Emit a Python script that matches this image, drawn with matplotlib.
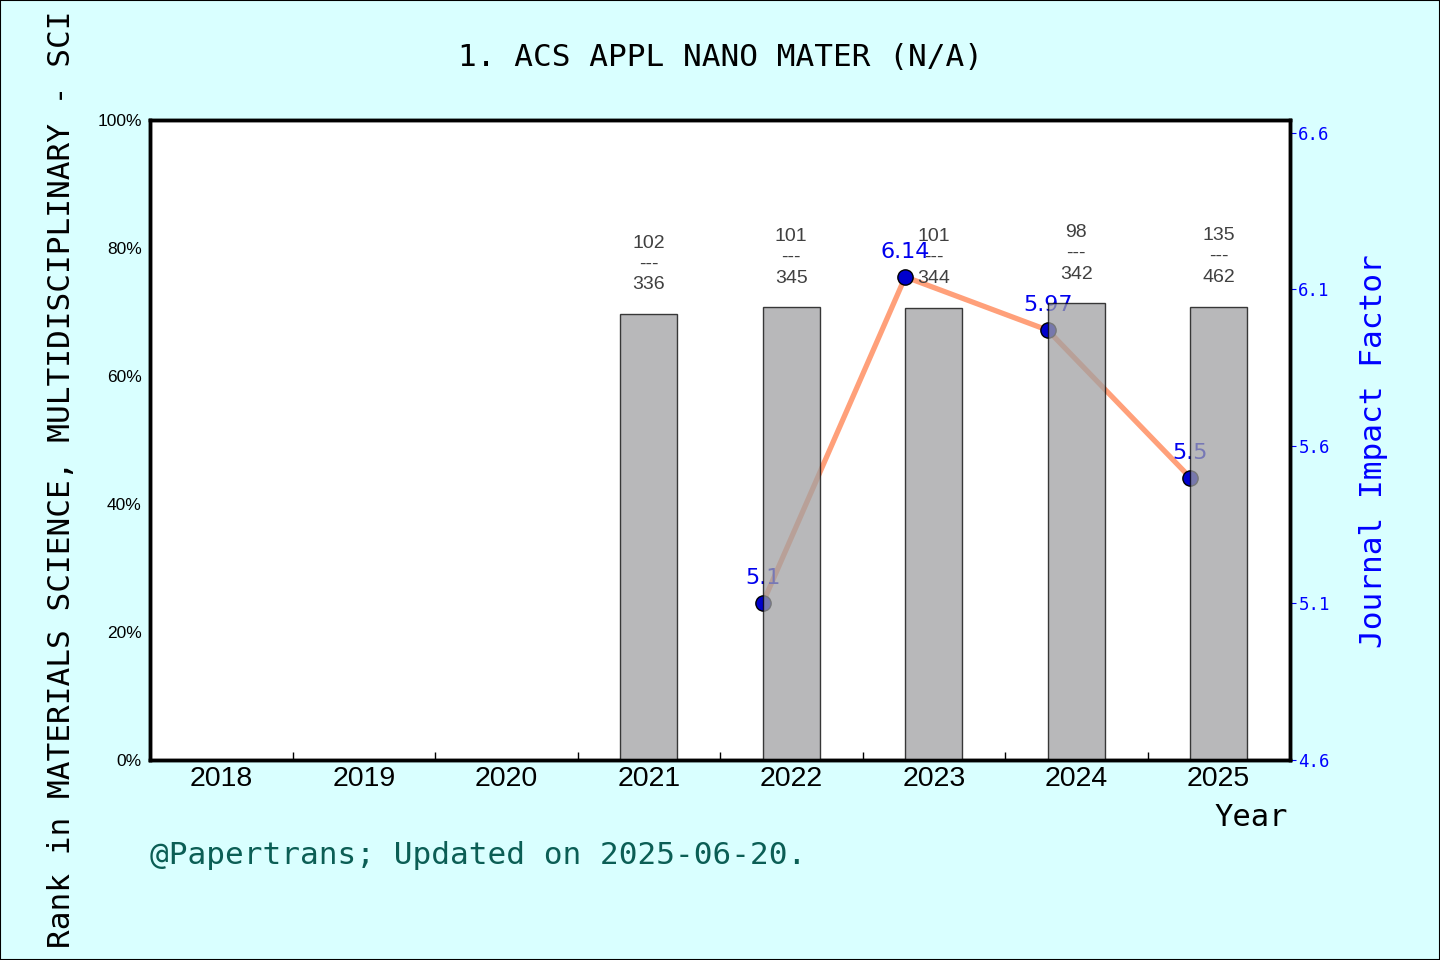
import matplotlib
matplotlib.use("Agg")
import matplotlib.pyplot as plt
import numpy as np
from matplotlib.ticker import FuncFormatter, FixedLocator
from matplotlib.patches import Rectangle

# ---- data ----
years = [2018, 2019, 2020, 2021, 2022, 2023, 2024, 2025]
bar_years = [2021, 2022, 2023, 2024, 2025]
ranks = [102, 101, 101, 98, 135]
totals = [336, 345, 344, 342, 462]
if_years = [2022, 2023, 2024, 2025]
if_values = [5.1, 6.14, 5.97, 5.5]
if_ticks = [4.6, 5.1, 5.6, 6.1, 6.6]
pct_ticks = [0, 0.2, 0.4, 0.6, 0.8, 1.0]
title = "1. ACS APPL NANO MATER (N/A)"
left_label = "Rank in MATERIALS SCIENCE, MULTIDISCIPLINARY - SCI"
right_label = "Journal Impact Factor"
footnote = "@Papertrans; Updated on 2025-06-20."

MONO = "DejaVu Sans Mono"
SANS = "Liberation Sans"

fig = plt.figure(figsize=(14.4, 9.6), dpi=100)
fig.patch.set_facecolor("#d9ffff")
fig.patches.append(Rectangle((0, 0), 1, 1, transform=fig.transFigure, fill=False,
                             edgecolor="black", linewidth=1.5, zorder=100))

rect = [150 / 1440, 200 / 960, 1140 / 1440, 640 / 960]
ax_if = fig.add_axes(rect)
ax_bar = ax_if.twinx()

ax_if.set_facecolor("white")
ax_bar.patch.set_visible(False)

# ---- IF line (drawn below bars) ----
x_if = np.array(if_years) - 0.2
ax_if.plot(x_if, if_values, color="#ffa07a", linewidth=3.8, zorder=2)
ax_if.plot(x_if, if_values, linestyle="none", marker="o", markersize=11,
           markerfacecolor="#0000cd", markeredgecolor="black", markeredgewidth=1, zorder=3)
for x, v in zip(x_if, if_values):
    ax_if.annotate(f"{v:g}", (x, v), xytext=(0, 18), textcoords="offset points",
                   ha="center", va="center", color="#0000ee", fontsize=16,
                   family="DejaVu Sans", zorder=4)

ax_if.set_ylim(4.6, 6.64)
ax_if.yaxis.set_label_position("right")
ax_if.yaxis.tick_right()
ax_if.set_yticks(if_ticks)
ax_if.set_yticklabels([f"{t:.1f}" for t in if_ticks], family=MONO, fontsize=12.5, color="#0000ff")
ax_if.tick_params(axis="y", direction="out", length=4, color="#0000ff", pad=2)

# ---- bars (on top, semi-transparent) ----
heights = [1 - r / t for r, t in zip(ranks, totals)]
ax_bar.bar(bar_years, heights, width=0.4, color="#a0a1a3", alpha=0.75,
           edgecolor="black", linewidth=1, zorder=2)
for x, h, r, t in zip(bar_years, heights, ranks, totals):
    ax_bar.annotate(f"{r}\n---\n{t}", (x, h), xytext=(0, 15), textcoords="offset points",
                    ha="center", va="bottom", fontsize=14, color="#404040",
                    family=SANS, linespacing=1.3)

ax_bar.set_ylim(0, 1)
ax_bar.yaxis.set_label_position("left")
ax_bar.yaxis.tick_left()
ax_bar.set_yticks(pct_ticks)
ax_bar.yaxis.set_major_formatter(FuncFormatter(lambda v, p: f"{v*100:.0f}%"))
for lab in ax_bar.get_yticklabels():
    lab.set_family(SANS)
    lab.set_fontsize(12.5)
ax_bar.tick_params(axis="y", length=0, pad=6)

# ---- x axis ----
ax_if.set_xlim(2017.5, 2025.5)
ax_if.set_xticks(years)
ax_if.set_xticklabels([str(y) for y in years], family=SANS, fontsize=20.5)
ax_if.tick_params(axis="x", which="major", length=0, pad=4)
ax_if.xaxis.set_minor_locator(FixedLocator([y + 0.5 for y in years[:-1]]))
ax_if.tick_params(axis="x", which="minor", direction="in", length=6, width=1)

for a in (ax_if, ax_bar):
    for s in a.spines.values():
        s.set_linewidth(2.5)
        s.set_color("black")

# ---- texts ----
fig.text(720 / 1440, 1 - 57 / 960, title, ha="center", va="center",
         family=MONO, fontsize=22.4)
fig.text(62 / 1440, 1 - 479 / 960, left_label, rotation=90, ha="center", va="center",
         family=MONO, fontsize=22.4)
fig.text(1373 / 1440, 1 - 451 / 960, right_label, rotation=90, ha="center", va="center",
         family=MONO, fontsize=22.4, color="#0000ff")
fig.text(1288 / 1440, 1 - 818 / 960, "Year", ha="right", va="center",
         family=MONO, fontsize=22)
fig.text(150 / 1440, 1 - 855 / 960, footnote, ha="left", va="center",
         family=MONO, fontsize=22.4, color="#0b5e55")

fig.savefig("out.png", dpi=100, facecolor=fig.get_facecolor())
